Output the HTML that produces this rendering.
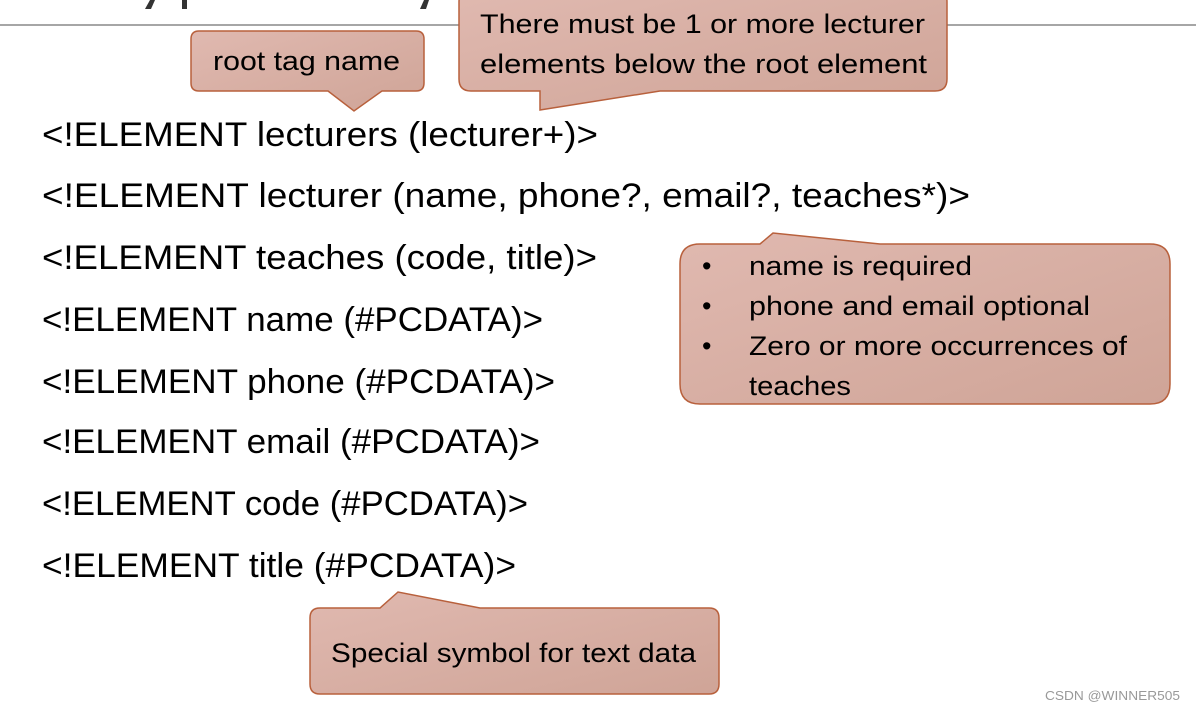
<!DOCTYPE html>
<html><head><meta charset="utf-8"><style>
html,body{margin:0;padding:0;background:#fff;}
svg{display:block;}
text{font-family:"Liberation Sans",sans-serif;fill:#000;}
.m{font-size:34px;}
.c{font-size:27px;}
</style></head><body>
<svg width="1196" height="712" viewBox="0 0 1196 712" xmlns="http://www.w3.org/2000/svg">
<defs>
<linearGradient id="g" x1="0" y1="0" x2="1" y2="1">
<stop offset="0" stop-color="#e0b9b0"/><stop offset="1" stop-color="#cfa497"/>
</linearGradient>
</defs>
<path d="M150 0 L145 9 L151 9 L155 0Z" fill="#333"/>
<rect x="182" y="0" width="5" height="9" fill="#333"/>
<path d="M424 0 L420 9 L426 9 L429 0Z" fill="#333"/>
<line x1="0" y1="25" x2="1196" y2="25" stroke="#888" stroke-width="1.5"/>

<path d="M199 31 H416 Q424 31 424 39 V83 Q424 91 416 91 H382 L354 111 L328 91 H199 Q191 91 191 83 V39 Q191 31 199 31Z" fill="url(#g)" stroke="#b8603c" stroke-width="1.5"/>
<text class="c" x="213" y="70" textLength="187" lengthAdjust="spacingAndGlyphs">root tag name</text>

<path d="M470 -10 H935 Q947 -10 947 2 V79 Q947 91 935 91 H660 L540 110 L540 91 H471 Q459 91 459 79 V2 Q459 -10 470 -10Z" fill="url(#g)" stroke="#b8603c" stroke-width="1.5"/>
<text class="c" x="480" y="33" textLength="445" lengthAdjust="spacingAndGlyphs">There must be 1 or more lecturer</text>
<text class="c" x="480" y="73" textLength="447" lengthAdjust="spacingAndGlyphs">elements below the root element</text>

<path d="M700 244 H760 L773 233 L880 244 H1150 Q1170 244 1170 264 V384 Q1170 404 1150 404 H700 Q680 404 680 384 V264 Q680 244 700 244Z" fill="url(#g)" stroke="#b8603c" stroke-width="1.5"/>
<text class="c" x="702" y="275">•</text>
<text class="c" x="702" y="315">•</text>
<text class="c" x="702" y="355">•</text>
<text class="c" x="749" y="275" textLength="223" lengthAdjust="spacingAndGlyphs">name is required</text>
<text class="c" x="749" y="315" textLength="341" lengthAdjust="spacingAndGlyphs">phone and email optional</text>
<text class="c" x="749" y="355" textLength="378" lengthAdjust="spacingAndGlyphs">Zero or more occurrences of</text>
<text class="c" x="749" y="395" textLength="102" lengthAdjust="spacingAndGlyphs">teaches</text>

<path d="M320 608 H380 L398 592 L480 608 H709 Q719 608 719 618 V684 Q719 694 709 694 H320 Q310 694 310 684 V618 Q310 608 320 608Z" fill="url(#g)" stroke="#b8603c" stroke-width="1.5"/>
<text class="c" x="331" y="662" textLength="365" lengthAdjust="spacingAndGlyphs">Special symbol for text data</text>

<text class="m" x="42" y="146" textLength="556" lengthAdjust="spacingAndGlyphs">&lt;!ELEMENT lecturers (lecturer+)&gt;</text>
<text class="m" x="42" y="207" textLength="928" lengthAdjust="spacingAndGlyphs">&lt;!ELEMENT lecturer (name, phone?, email?, teaches*)&gt;</text>
<text class="m" x="42" y="269" textLength="555" lengthAdjust="spacingAndGlyphs">&lt;!ELEMENT teaches (code, title)&gt;</text>
<text class="m" x="42" y="331" textLength="501" lengthAdjust="spacingAndGlyphs">&lt;!ELEMENT name (#PCDATA)&gt;</text>
<text class="m" x="42" y="393" textLength="513" lengthAdjust="spacingAndGlyphs">&lt;!ELEMENT phone (#PCDATA)&gt;</text>
<text class="m" x="42" y="453" textLength="498" lengthAdjust="spacingAndGlyphs">&lt;!ELEMENT email (#PCDATA)&gt;</text>
<text class="m" x="42" y="515" textLength="486" lengthAdjust="spacingAndGlyphs">&lt;!ELEMENT code (#PCDATA)&gt;</text>
<text class="m" x="42" y="577" textLength="474" lengthAdjust="spacingAndGlyphs">&lt;!ELEMENT title (#PCDATA)&gt;</text>

<text x="1045" y="700" style="font-size:13px;fill:#999" textLength="135" lengthAdjust="spacingAndGlyphs">CSDN @WINNER505</text>
</svg>
</body></html>
